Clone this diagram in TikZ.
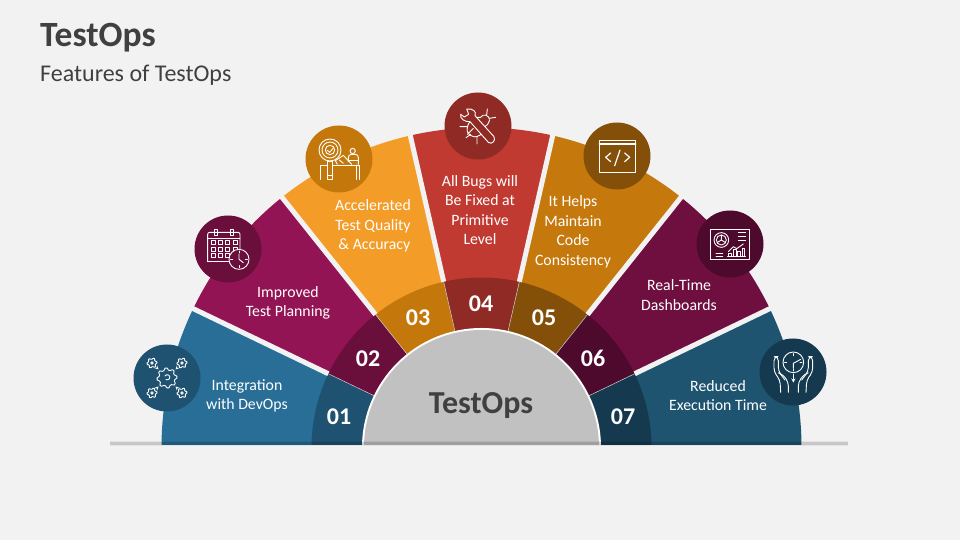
\documentclass[tikz,border=0pt]{standalone}
\usepackage{fontspec}
\setmainfont{Carlito}
\definecolor{bgc}{HTML}{F2F2F2}
\definecolor{txtc}{HTML}{404040}
\definecolor{sa}{HTML}{286E96}\definecolor{da}{HTML}{1F5270}
\definecolor{sb}{HTML}{931454}\definecolor{db}{HTML}{6A0E3C}
\definecolor{sc}{HTML}{F49C28}\definecolor{dc}{HTML}{C4780C}
\definecolor{sd}{HTML}{C03A31}\definecolor{dd}{HTML}{8F2B24}
\definecolor{se}{HTML}{C5780C}\definecolor{de}{HTML}{845009}
\definecolor{sf}{HTML}{6E0F40}\definecolor{df}{HTML}{4D0A2C}
\definecolor{sg}{HTML}{1F5470}\definecolor{dg}{HTML}{153A4F}
\tikzset{
  lab/.style={text=white,align=center,inner sep=0pt,font=\fontsize{15.8}{19.5}\selectfont},
  num/.style={text=white,inner sep=0pt,font=\bfseries\fontsize{24}{24}\selectfont},
  ico/.style={draw=white,line width=0.9pt,line join=round,line cap=round},
  gapline/.style={draw=bgc,line width=5pt},
  thinline/.style={draw=bgc!70!gray,line width=0.5pt},
  crop/.style={x=0.33333pt,y=-0.33333pt}
}
% #1 start #2 end #3 inner R #4 outer R #5 colour
\newcommand{\segm}[5]{\fill[#5] (#1:#3) -- (#1:#4) arc[start angle=#1,end angle=#2,radius=#4] -- (#2:#3) arc[start angle=#2,end angle=#1,radius=#3] -- cycle;}
% gear: centre, R, tooth height, teeth
\newcommand{\geartooth}[4]{\draw[ico,shift={#1}] plot[domain=0:360,samples={4*#4+1}] (\x:{#2+#3*(mod(round(\x/(90/#4))+0.5,4)<2)}) -- cycle;}
\begin{document}
\begin{tikzpicture}[x=1pt,y=1pt]
\useasboundingbox (0,0) rectangle (960,540);
\fill[bgc] (0,0) rectangle (960,540);
\node[anchor=base west,inner sep=0pt,text=txtc,font=\bfseries\fontsize{35.5}{36}\selectfont] (title) at (40,493) {TestOps};
\node[anchor=base west,inner sep=0pt,text=txtc,font=\fontsize{24}{24}\selectfont] (subtitle) at (40,458) {Features of TestOps};
\begin{scope}
  \clip (0,95) rectangle (960,540);
  \begin{scope}[shift={(481.5,92.5)}]
  \segm{154.2857}{180}{119}{320}{sa}
  \segm{128.5714}{154.2857}{119}{320}{sb}
  \segm{102.8571}{128.5714}{119}{320}{sc}
  \segm{77.1429}{102.8571}{119}{320}{sd}
  \segm{51.4286}{77.1429}{119}{320}{se}
  \segm{25.7143}{51.4286}{119}{320}{sf}
  \segm{0}{25.7143}{119}{320}{sg}
  \segm{154.2857}{180}{118}{170}{da}
  \segm{128.5714}{154.2857}{118}{170}{db}
  \segm{102.8571}{128.5714}{118}{170}{dc}
  \segm{77.1429}{102.8571}{118}{170}{dd}
  \segm{51.4286}{77.1429}{118}{170}{de}
  \segm{25.7143}{51.4286}{118}{170}{df}
  \segm{0}{25.7143}{118}{170}{dg}
  \foreach \a in {25.7143,51.4286,77.1429,102.8571,128.5714,154.2857}{
    \draw[gapline] (\a:170) -- (\a:325);
    \draw[thinline] (\a:118) -- (\a:170);
  }
  \fill[white!85!bgc] (-119.5,0) arc[start angle=180,end angle=0,radius=119.5] -- cycle;
  \fill[black!24.5] (-117.5,0) arc[start angle=180,end angle=0,radius=117.5] -- cycle;
  \end{scope}
\end{scope}
% base line
\fill[black,opacity=0.12] (110,94.8) rectangle (848,97.6);
\fill[black,opacity=0.06] (110,94) rectangle (848,98.6);
% labels
\node[inner sep=0pt,text=txtc,font=\bfseries\fontsize{32}{32}\selectfont] (hub) at (481,134) {TestOps};
\node[num] (n1) at (339,123) {01};
\node[num] (n2) at (368,181) {02};
\node[num] (n3) at (418,222) {03};
\node[num] (n4) at (481,236) {04};
\node[num] (n5) at (544,222) {05};
\node[num] (n6) at (593,182) {06};
\node[num] (n7) at (623,123) {07};
\node[lab] (t1) at (247,144) {Integration\\with DevOps};
\node[lab] (t2) at (288,237) {Improved\\Test Planning};
\node[lab] (t3) at (373,314) {Accelerated\\Test Quality\\\,\& Accuracy};
\node[lab] (t4) at (480,330) {All Bugs will\\Be Fixed at\\Primitive\\Level};
\node[lab] (t5) at (573,308) {It Helps\\Maintain\\Code\\Consistency};
\node[lab] (t6) at (679,245) {Real-Time\\Dashboards};
\node[lab] (t7) at (718,144.5) {Reduced\\Execution Time};
% discs
\fill[da] (167,162) circle (33.5);
\fill[db] (228,291) circle (33.5);
\fill[dc] (339,381) circle (33.5);
\fill[dd] (478,414) circle (33.5);
\fill[de] (617,384) circle (33.5);
\fill[df] (730,296) circle (33.5);
\fill[dg] (793,168) circle (33.5);
% icon 1
\begin{scope}[shift={(167pt,162pt)}]
  \geartooth{(0,0)}{8}{2}{8}
  \draw[ico] (-2,2) arc[start angle=150,end angle=-120,radius=2.6];
  \foreach \sx/\sy in {1/1,-1/1,1/-1,-1/-1}{
    \geartooth{(\sx*15,\sy*15)}{3.8}{1.2}{6}
    \draw[ico] (\sx*15,\sy*15) circle (1.2);
    \draw[ico,-stealth,line width=0.7pt] (\sx*9.5,\sy*9.5) -- (\sx*8.5,\sy*8.5);
  }
\end{scope}
% icon 2 (crop coords)
\begin{scope}[shift={(180pt,420pt)},crop]
  \draw[ico,rounded corners=2pt] (83,425) -- (83,337) -- (180,337) -- (180,388);
  \draw[ico] (83,425) -- (145,425);
  \draw[ico] (83,355) -- (180,355);
  \draw[ico] (103,328) rectangle (111,346);
  \draw[ico] (151,328) rectangle (159,346);
  \foreach \x in {93,115,137,159}{\foreach \y in {361,381}{\draw[ico,line width=0.7pt] (\x,\y) rectangle ++(12,12);}}
  \foreach \x in {93,115,137}{\draw[ico,line width=0.7pt] (\x,401) rectangle ++(12,12);}
  \filldraw[ico,fill=db] (177,418) circle (30);
  \draw[ico] (177,393) -- (177,399) (177,437) -- (177,443) (152,418) -- (158,418) (196,418) -- (202,418);
  \draw[ico] (177,402) -- (177,418) -- (190,428);
\end{scope}
% icon 3 (crop coords)
\begin{scope}[shift={(180pt,420pt)},crop]
  \draw[ico] (420,178) -- (420,135) -- (537,135) -- (537,178) (530,135) -- (530,178);
  \filldraw[ico,fill=dc] (443,125) rectangle (458,178);
  \draw[ico] (443,165) -- (458,165);
  \filldraw[ico,fill=dc] (450,90) circle (33);
  \draw[ico] (450,90) circle (24) (450,90) circle (14);
  \draw[ico] (442,91) -- (449,97) -- (460,84);
  \draw[ico] (466,122) -- (490,106) -- (515,133) (472,133) -- (466,122);
  \draw[ico] (478,120) -- (490,130);
  \draw[ico] (518,93) circle (8);
  \draw[ico,rounded corners=3pt] (505,125) -- (505,103) -- (535,103) -- (535,133);
  \draw[ico] (505,120) -- (535,120);
\end{scope}
% icon 4 (crop coords)
\begin{scope}[shift={(430pt,455pt)},crop]
  \draw[ico] (152,97) .. controls (125,95) and (108,118) .. (112,140) .. controls (118,158) and (145,165) .. (165,135);
  \draw[ico] (152,97) .. controls (158,85) and (180,88) .. (178,108) .. controls (177,115) and (170,122) .. (165,125);
  \draw[ico] (172,72) -- (170,90) (197,97) -- (178,100) (90,125) -- (113,125) (141,177) -- (141,157) (108,158) -- (122,148);
  \draw[ico] (130,130) -- (112,148);
  \filldraw[ico,fill=dd] (110,72) .. controls (130,70) and (140,80) .. (135,92) -- (192,155) .. controls (198,168) and (185,180) .. (175,172) -- (120,110) .. controls (105,112) and (88,100) .. (92,88) -- (103,96) -- (116,88) -- cycle;
\end{scope}
% icon 5 (crop coords)
\begin{scope}[shift={(430pt,455pt)},crop]
  \draw[ico] (508,167) rectangle (617,262);
  \draw[ico,line width=1.6pt] (508,177) -- (617,177);
  \draw[ico,line width=1.2pt] (542,204) -- (527,217) -- (542,230);
  \draw[ico,line width=1.2pt] (584,204) -- (599,217) -- (584,230);
  \draw[ico,line width=1.2pt] (570,195) -- (554,242);
\end{scope}
% icon 6 (crop coords)
\begin{scope}[shift={(680pt,340pt)},crop]
  \draw[ico] (91,88) rectangle (209,178);
  \draw[ico] (124,120) circle (22) (124,120) circle (15);
  \draw[ico] (124,105) -- (124,120) -- (137,128) (124,120) -- (111,128);
  \draw[ico] (175,98) -- (197,98) (175,109) -- (197,109) (175,120) -- (197,120);
  \draw[ico] (108,159) -- (128,159) (108,169) -- (128,169);
  \draw[ico] (143,170) -- (196,170);
  \draw[ico] (146,170) -- (146,160) -- (155,160) -- (155,170);
  \draw[ico] (160,170) -- (160,148) -- (168,148) -- (168,170);
  \draw[ico] (173,170) -- (173,153) -- (181,153) -- (181,170);
  \draw[ico] (186,170) -- (186,146) -- (194,146) -- (194,170);
  \draw[ico] (145,155) -- (160,140) -- (170,146) -- (190,132);
\end{scope}
% icon 7 (crop coords)
\begin{scope}[shift={(680pt,340pt)},crop]
  \draw[ico] (340,487) circle (31);
  \draw[ico] (340,461) -- (340,467) (340,507) -- (340,513) (314,487) -- (320,487) (360,487) -- (366,487);
  \draw[ico] (340,505) -- (340,490) -- (362,478);
  \draw[ico,-stealth] (340,522) -- (340,548);
  \foreach \s in {-1,1}{
    \draw[ico,rounded corners=4pt] ({340-\s*38},577) -- ({340-\s*40},540) -- ({340-\s*58},516) -- ({340-\s*58},470) -- ({340-\s*45},470) -- ({340-\s*45},514) -- ({340-\s*25},540);
    \draw[ico,rounded corners=4pt] ({340-\s*15},577) -- ({340-\s*15},546) -- ({340-\s*33},522) -- ({340-\s*40},520);
  }
\end{scope}
\end{tikzpicture}
\end{document}
